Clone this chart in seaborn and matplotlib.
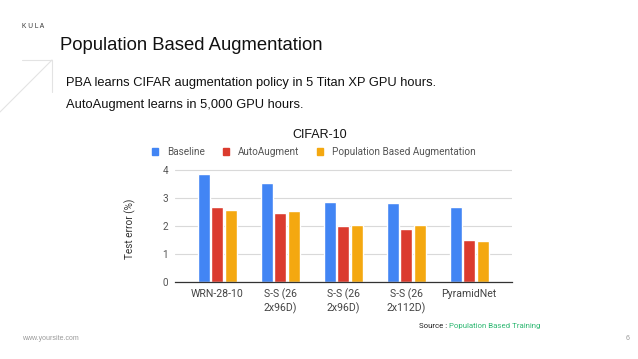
import matplotlib
matplotlib.use("Agg")
import matplotlib.pyplot as plt
from matplotlib.lines import Line2D
from matplotlib.patches import Patch
import seaborn as sns
import pandas as pd

# ---- data ----
categories = ["WRN-28-10", "S-S (26\n2x96D)", "S-S (26\n2x96D)", "S-S (26\n2x112D)", "PyramidNet"]
series_names = ["Baseline", "AutoAugment", "Population Based Augmentation"]
baseline = [3.87, 3.55, 2.86, 2.82, 2.67]
autoaugment = [2.68, 2.47, 1.99, 1.89, 1.48]
pba = [2.58, 2.54, 2.03, 2.03, 1.46]
y_ticks = [0, 1, 2, 3, 4]
colors = ["#4285F4", "#DB3B2E", "#F4A810"]

rows = []
for i, cat in enumerate(categories):
    for name, vals in zip(series_names, [baseline, autoaugment, pba]):
        rows.append({"idx": i, "series": name, "value": vals[i]})
df = pd.DataFrame(rows)

sns.set_theme(style="white")
plt.rcParams["font.family"] = ["Liberation Sans", "DejaVu Sans"]

W, H = 638, 359
fig = plt.figure(figsize=(W / 100, H / 100), dpi=100)
fig.patch.set_facecolor("white")

def fx(x):
    return x / W

def fy(y):
    return 1 - y / H

# axes placement
ax_left, ax_right, ax_bottom, ax_top = 175, 512, 281.7, 165.9
ax = fig.add_axes([fx(ax_left), fy(ax_bottom), (ax_right - ax_left) / W, (ax_bottom - ax_top) / H])

sns.barplot(data=df, x="idx", y="value", hue="series", hue_order=series_names,
            palette=colors, width=0.64, gap=0.1, ax=ax, legend=False,
            saturation=1, errorbar=None)

ax.set_xlim(-0.67, 4.68)
ax.set_ylim(0, 4.15)
ax.set_yticks(y_ticks)
ax.set_yticklabels([str(t) for t in y_ticks], fontfamily="Roboto", fontsize=7.2, color="#555555")
ax.set_xticks(range(len(categories)))
ax.set_xticklabels(categories, fontfamily="Roboto", fontsize=7.6, color="#444444", linespacing=1.3)
ax.tick_params(axis="both", length=0, pad=5)
ax.tick_params(axis="y", pad=5)
ax.grid(axis="y", color="#d9d9d9", linewidth=0.8)
ax.set_axisbelow(True)
for s in ["top", "right", "left"]:
    ax.spines[s].set_visible(False)
ax.spines["bottom"].set_color("#333333")
ax.spines["bottom"].set_linewidth(0.9)
ax.set_xlabel("")
ax.set_ylabel("Test error (%)", fontfamily="Roboto", fontsize=7.2, color="#333333")
ax.yaxis.set_label_coords(-0.116, 0.46)
ax.set_facecolor("white")

# legend
handles = [Patch(facecolor=c, edgecolor=c) for c in colors]
leg = fig.legend(handles, series_names, loc="center left", ncol=3,
                 bbox_to_anchor=(fx(152), fy(152)), frameon=False,
                 prop={"family": "Roboto", "size": 7.2}, handlelength=0.6, handleheight=0.6,
                 handletextpad=0.9, columnspacing=1.8, borderaxespad=0, borderpad=0)
for t in leg.get_texts():
    t.set_color("#555555")

# chart title
fig.text(fx(320), fy(135), "CIFAR-10", ha="center", va="center", fontsize=9.0, color="#111111")

# slide texts
fig.text(fx(22), fy(26), "K U L A", ha="left", va="center", fontsize=4.8, color="#333333")
fig.text(fx(60), fy(46), "Population Based Augmentation", ha="left", va="center", fontsize=13.3, color="#111111")
fig.text(fx(66), fy(83), "PBA learns CIFAR augmentation policy in 5 Titan XP GPU hours.",
         ha="left", va="center", fontsize=9.3, color="#111111")
fig.text(fx(66), fy(105), "AutoAugment learns in 5,000 GPU hours.",
         ha="left", va="center", fontsize=9.3, color="#111111")
fig.text(fx(22), fy(338), "www.yoursite.com", ha="left", va="center", fontsize=5, color="#999999")
fig.text(fx(628), fy(338), "6", ha="center", va="center", fontsize=5, color="#999999")

src1 = fig.text(fx(419), fy(326), "Source : ", ha="left", va="center", fontsize=5.7,
                fontfamily="Roboto", color="#222222")
fig.canvas.draw()
bb = src1.get_window_extent()
fig.text(bb.x1 / W, fy(326), "Population Based Training", ha="left", va="center", fontsize=5.7,
         fontfamily="Roboto", color="#2EB872")

# decorative lines
lc = "#e3e3e3"
fig.add_artist(Line2D([fx(22), fx(52)], [fy(60), fy(60)], transform=fig.transFigure, color=lc, lw=0.8))
fig.add_artist(Line2D([fx(52), fx(52)], [fy(60), fy(92)], transform=fig.transFigure, color=lc, lw=0.8))
fig.add_artist(Line2D([fx(52), fx(0)], [fy(60), fy(112)], transform=fig.transFigure, color=lc, lw=0.8))

fig.savefig("out.png", dpi=100, facecolor="white")
